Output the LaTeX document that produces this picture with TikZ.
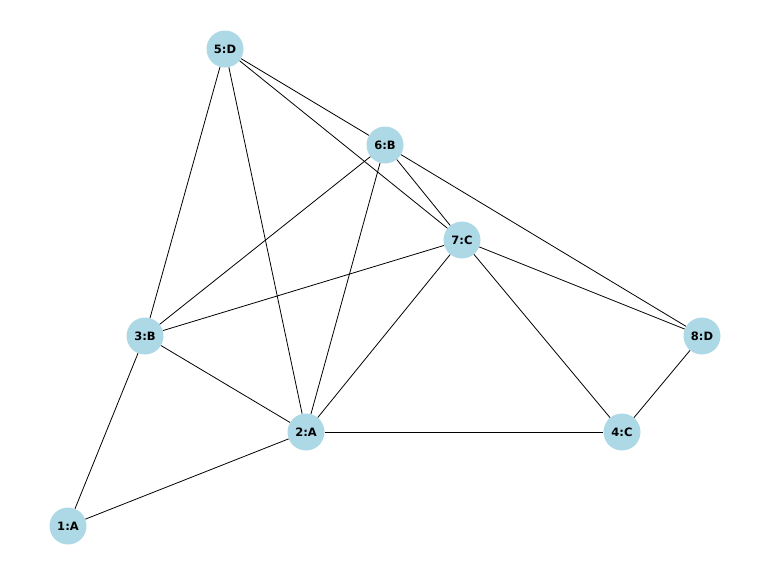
\documentclass[tikz,border=0pt]{standalone}
\usepackage{fontspec}
\setmainfont{DejaVu Sans}
\definecolor{lb}{RGB}{173,216,230}
\begin{document}
\begin{tikzpicture}[x=1pt,y=-1pt,
  vtx/.style={circle,fill=lb,minimum size=37pt,inner sep=0pt,font=\bfseries\fontsize{11.5}{12}\selectfont},
  edge/.style={draw=black,line width=0.8pt}]
\useasboundingbox (0,0) rectangle (768,576);
\node[vtx] (n1) at (68,526) {1:A};
\node[vtx] (n2) at (306,432) {2:A};
\node[vtx] (n3) at (145,336) {3:B};
\node[vtx] (n4) at (622,432) {4:C};
\node[vtx] (n5) at (225,49) {5:D};
\node[vtx] (n6) at (385,145) {6:B};
\node[vtx] (n7) at (462,240) {7:C};
\node[vtx] (n8) at (702,336) {8:D};
\begin{scope}[on background layer/.style={}]
\end{scope}
\foreach \a/\b in {1/3,1/2,3/2,3/5,3/6,3/7,5/2,5/6,5/7,6/7,6/2,6/8,7/2,7/8,7/4,2/4,4/8}
  \draw[edge] (n\a) -- (n\b);
\end{tikzpicture}
\end{document}
